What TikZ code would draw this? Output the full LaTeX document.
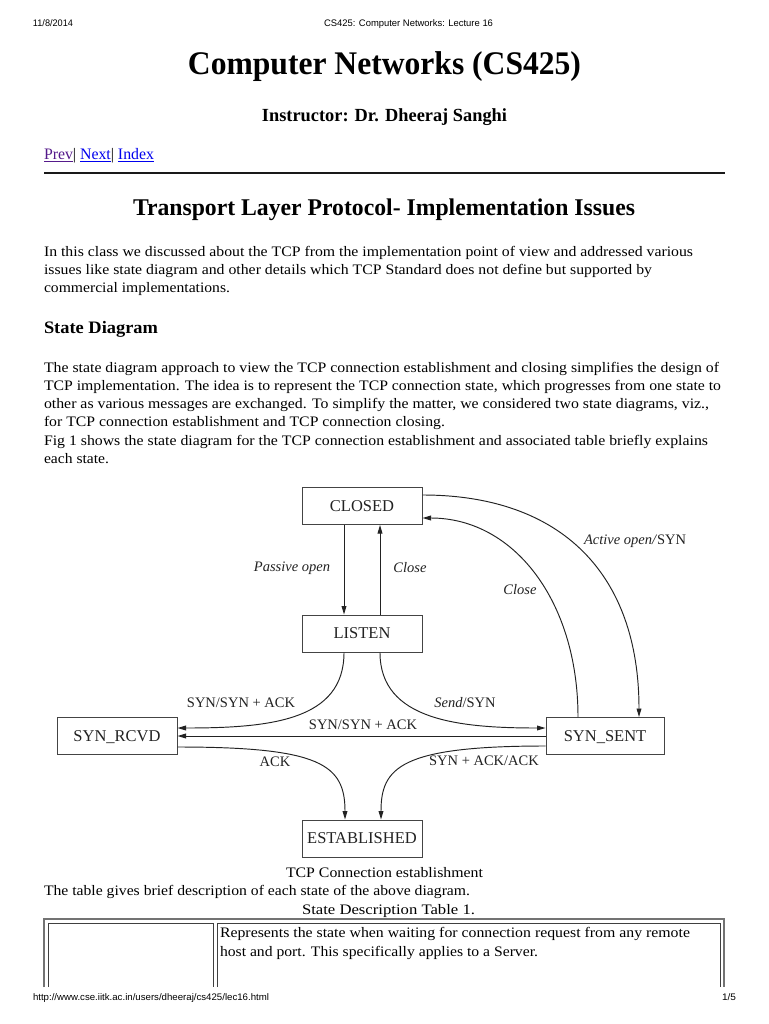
\documentclass[tikz,border=0pt]{standalone}
\usepackage{fontspec}
\setmainfont{Liberation Serif}
\newfontfamily\hdrfont{Liberation Sans}
\usepackage{graphicx}
\usetikzlibrary{arrows.meta}
\definecolor{linkblue}{HTML}{0000EE}
\definecolor{linkvisited}{HTML}{551A8B}
\definecolor{diag}{HTML}{222222}
\definecolor{boxline}{HTML}{444444}
\newcommand{\fitw}[2]{\resizebox{#1pt}{\height}{#2}}
\begin{document}
\begin{tikzpicture}[x=1pt,y=-1pt,
  txt/.style={inner sep=0pt, outer sep=0pt, font=\fontsize{14.5}{17}\selectfont},
  hdr/.style={inner sep=0pt, outer sep=0pt, font=\hdrfont\fontsize{9.5}{11}\selectfont},
  state/.style={draw=boxline, line width=1pt, minimum width=120pt, minimum height=37pt,
    inner sep=0pt, text height=10.9pt, text depth=0pt, font=\fontsize{16.5}{18}\selectfont, text=diag},
  lab/.style={inner sep=0pt, outer sep=0pt, font=\fontsize{14.5}{16}\selectfont, text=diag},
  conn/.style={draw=diag, line width=0.95pt},
  arr/.style={conn, -{Triangle[length=8.5pt,width=4.8pt]}},
  tblout/.style={draw=black!55, line width=1.4pt},
  cell/.style={draw=black!75, line width=0.9pt},
]
\useasboundingbox (0,0) rectangle (768,1024);
\fill[white] (0,0) rectangle (768,1024);

% header
\node[hdr, anchor=base west] (hdate) at (33,27) {\fitw{40}{11/8/2014}};
\node[hdr, anchor=base west] (hcourse) at (324,27) {\fitw{169}{CS425: Computer Networks: Lecture 16}};

% titles
\node[txt, anchor=base, font=\bfseries\fontsize{33}{36}\selectfont] (title) at (384.5,75) {\fitw{393}{Computer Networks (CS425)}};
\node[txt, anchor=base, font=\bfseries\fontsize{18.5}{21}\selectfont] (instr) at (384.5,122) {\fitw{245}{Instructor: Dr. Dheeraj Sanghi}};
\node[txt, anchor=base west, font=\fontsize{16}{18}\selectfont] (nav) at (44,160)
  {\fitw{110}{\textcolor{linkvisited}{\underline{Prev}}| \textcolor{linkblue}{\underline{Next}}| \textcolor{linkblue}{\underline{Index}}}};
\fill[black!90] (44,171.7) rectangle (725,174.3);

\node[txt, anchor=base west, font=\bfseries\fontsize{24}{27}\selectfont] (ttl2) at (133,215) {\fitw{502}{Transport Layer Protocol- Implementation Issues}};

% paragraph 1
\node[txt, anchor=base west] (p1a) at (44,256) {\fitw{649}{In this class we discussed about the TCP from the implementation point of view and addressed various}};
\node[txt, anchor=base west] (p1b) at (44,274) {\fitw{608}{issues like state diagram and other details which TCP Standard does not define but supported by}};
\node[txt, anchor=base west] (p1c) at (44,292) {\fitw{186}{commercial implementations.}};

\node[txt, anchor=base west, font=\bfseries\fontsize{17.5}{20}\selectfont] (sdh) at (44,333) {\fitw{114}{State Diagram}};

% paragraph 2
\node[txt, anchor=base west] (p2a) at (44,372) {\fitw{675}{The state diagram approach to view the TCP connection establishment and closing simplifies the design of}};
\node[txt, anchor=base west] (p2b) at (44,390) {\fitw{677}{TCP implementation. The idea is to represent the TCP connection state, which progresses from one state to}};
\node[txt, anchor=base west] (p2c) at (44,408) {\fitw{665}{other as various messages are exchanged. To simplify the matter, we considered two state diagrams, viz.,}};
\node[txt, anchor=base west] (p2d) at (44,426) {\fitw{401}{for TCP connection establishment and TCP connection closing.}};
\node[txt, anchor=base west] (p2e) at (44,445) {\fitw{664}{Fig 1 shows the state diagram for the TCP connection establishment and associated table briefly explains}};
\node[txt, anchor=base west] (p2f) at (44,463) {\fitw{65}{each state.}};

% state diagram
\node[state] (closed) at (362,506) {CLOSED};
\node[state] (listen) at (362,633.5) {LISTEN};
\node[state] (synrcvd) at (117,736) {SYN\_RCVD};
\node[state, minimum width=118pt] (synsent) at (605,736) {SYN\_SENT};
\node[state] (established) at (362,838.5) {ESTABLISHED};

\draw[arr] ([xshift=-18pt]closed.south) -- ([xshift=-18pt]listen.north);
\draw[arr] ([xshift=18pt]listen.north) -- ([xshift=18pt]closed.south);
\draw[arr] ([yshift=11pt]closed.east) .. controls +(140,0) and +(0,-142) .. ([xshift=34pt]synsent.north);
\draw[arr] ([xshift=-27pt]synsent.north) .. controls +(0,-115) and +(92,0) .. ([yshift=-12pt]closed.east);
\draw[arr] ([xshift=-18pt]listen.south) .. controls +(0,68) and +(93,0) .. ([yshift=8pt]synrcvd.east);
\draw[arr] ([xshift=18pt]listen.south) .. controls +(0,68) and +(-86,0) .. ([yshift=8pt]synsent.west);
\draw[arr] (synsent.west) -- (synrcvd.east);
\draw[arr] ([yshift=-11pt]synrcvd.east) .. controls +(143,0) and +(0,-55) .. ([xshift=-17pt]established.north);
\draw[arr] ([yshift=-10pt]synsent.west) .. controls +(-145,0) and +(0,-52) .. ([xshift=19pt]established.north);

\node[lab, anchor=base] (lpo) at (292,571) {\textit{Passive open}};
\node[lab, anchor=base] (lc1) at (410,572) {\textit{Close}};
\node[lab, anchor=base west] (lao) at (584,544) {\textit{Active open/}SYN};
\node[lab, anchor=base] (lc2) at (520,594) {\textit{Close}};
\node[lab, anchor=base] (ls1) at (241,707) {SYN/SYN + ACK};
\node[lab, anchor=base] (lsend) at (465,707) {\textit{Send}/SYN};
\node[lab, anchor=base] (ls2) at (363,729) {SYN/SYN + ACK};
\node[lab, anchor=base] (lack) at (275,766) {ACK};
\node[lab, anchor=base] (lsa) at (484,765) {SYN + ACK/ACK};

% captions
\node[txt, anchor=base west] (fcap) at (286,877) {\fitw{197}{TCP Connection establishment}};
\node[txt, anchor=base west] (tintro) at (44,895) {\fitw{426}{The table gives brief description of each state of the above diagram.}};
\node[txt, anchor=base west] (tcap) at (302,914) {\fitw{173}{State Description Table 1.}};

% table
\draw[tblout] (44,987) |- (724,919) -- (724,987);
\draw[cell] (48.5,987) |- (213,923.5) -- (213,987);
\draw[cell] (217,987) |- (720.5,923.5) -- (720.5,987);
\node[txt, anchor=base west] (td1) at (220,937) {\fitw{470}{Represents the state when waiting for connection request from any remote}};
\node[txt, anchor=base west] (td2) at (220,956) {\fitw{318}{host and port. This specifically applies to a Server.}};

% footer
\node[hdr, anchor=base west] (furl) at (33,1000) {\fitw{236}{http://www.cse.iitk.ac.in/users/dheeraj/cs425/lec16.html}};
\node[hdr, anchor=base west] (fpage) at (722,1000) {\fitw{14}{1/5}};
\end{tikzpicture}
\end{document}
